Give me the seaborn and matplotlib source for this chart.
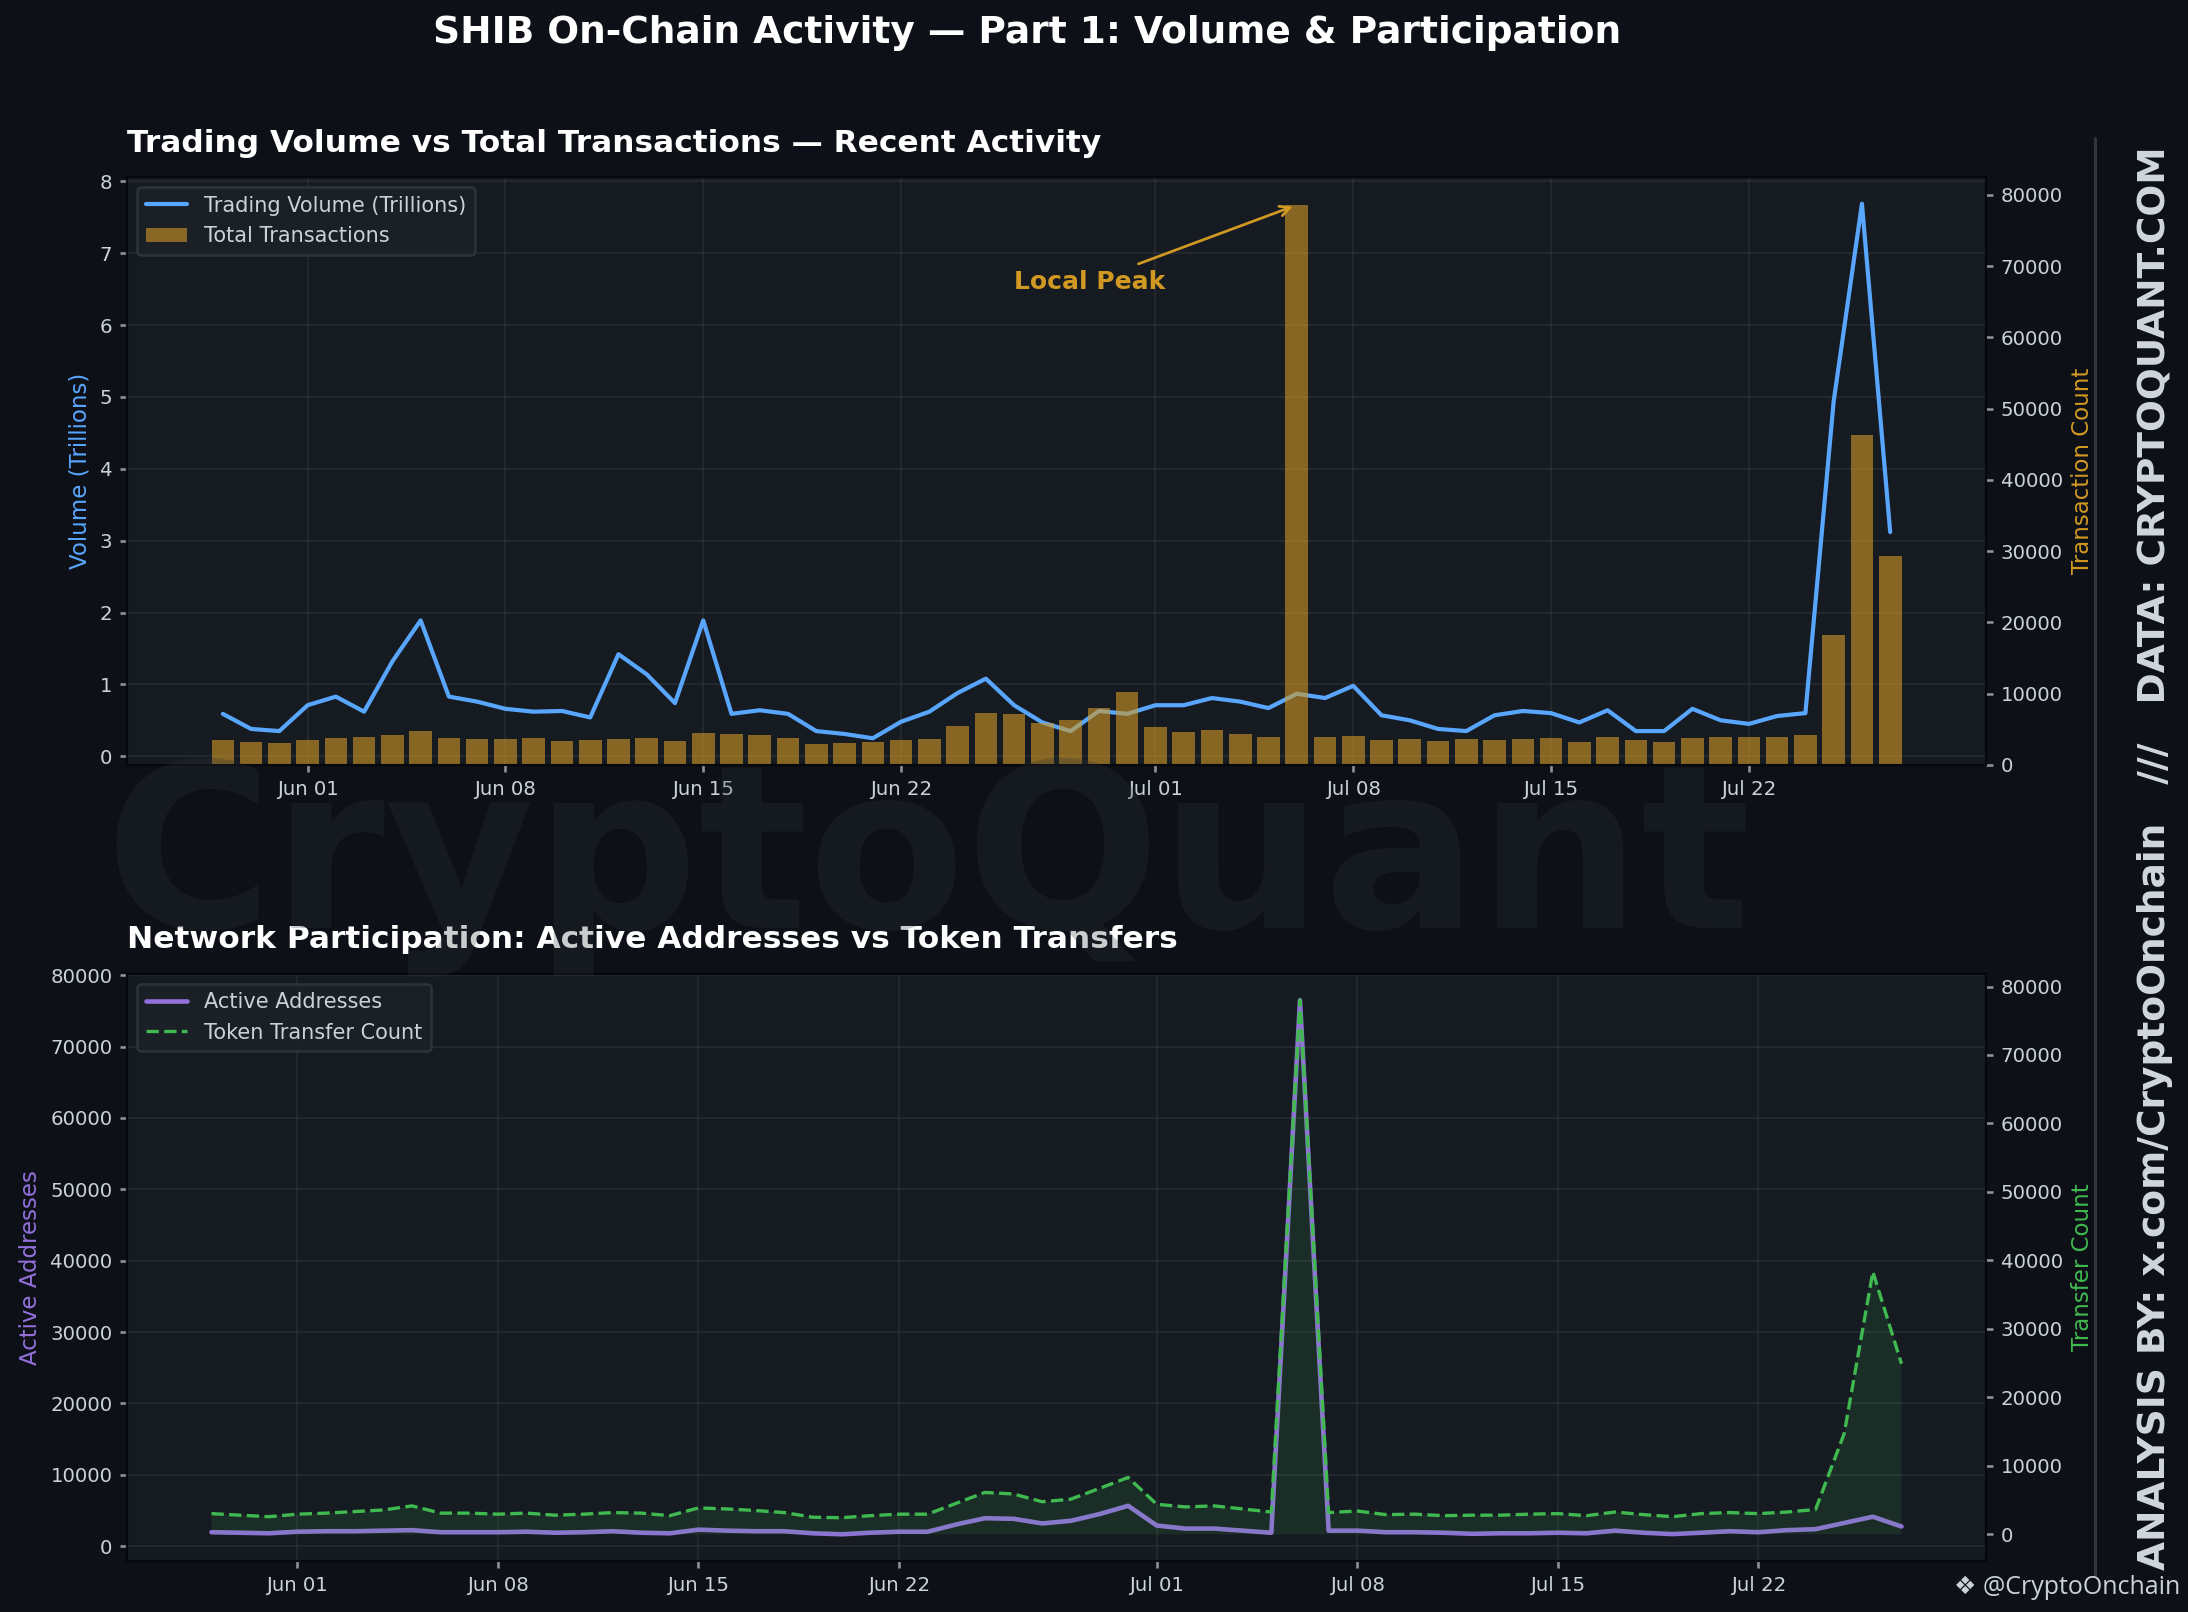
import numpy as np
import pandas as pd
import matplotlib
matplotlib.use("Agg")
import matplotlib.pyplot as plt
import matplotlib.dates as mdates
from matplotlib.lines import Line2D
import seaborn as sns

# ---------------- data ----------------
dates = pd.date_range("2025-05-29", periods=60, freq="D")

volume_trillions = [
    0.59, 0.38, 0.35, 0.71, 0.83, 0.62, 1.32, 1.89, 0.83, 0.76,
    0.66, 0.62, 0.63, 0.54, 1.42, 1.14, 0.74, 1.89, 0.59, 0.64,
    0.59, 0.35, 0.31, 0.25, 0.48, 0.62, 0.88, 1.08, 0.71, 0.47,
    0.35, 0.63, 0.59, 0.71, 0.71, 0.81, 0.76, 0.67, 0.87, 0.81,
    0.98, 0.57, 0.50, 0.38, 0.35, 0.57, 0.63, 0.60, 0.47, 0.64,
    0.35, 0.35, 0.66, 0.50, 0.45, 0.56, 0.60, 4.94, 7.69, 3.12,
]
total_transactions = [
    3510, 3290, 3150, 3500, 3720, 3860, 4150, 4720, 3790, 3650,
    3650, 3790, 3360, 3500, 3650, 3790, 3360, 4440, 4290, 4150,
    3790, 2930, 3080, 3220, 3500, 3650, 5440, 7300, 7160, 5900,
    6300, 8010, 10230, 5370, 4650, 4940, 4360, 3940, 78570, 3940,
    4080, 3510, 3650, 3360, 3650, 3510, 3650, 3790, 3220, 3940,
    3510, 3220, 3790, 3940, 3940, 3940, 4220, 18250, 46300, 29340,
]
active_addresses = [
    1960, 1890, 1810, 2030, 2100, 2100, 2180, 2250, 1960, 1960,
    1960, 2030, 1890, 1960, 2100, 1890, 1810, 2320, 2180, 2100,
    2100, 1810, 1670, 1890, 2030, 2030, 3050, 3920, 3840, 3190,
    3560, 4500, 5660, 2900, 2470, 2470, 2180, 1890, 76500, 2180,
    2180, 1960, 1960, 1890, 1740, 1810, 1810, 1890, 1810, 2180,
    1890, 1700, 1890, 2100, 1960, 2250, 2390, 3260, 4130, 2760,
]
token_transfers = [
    3020, 2790, 2570, 2940, 3090, 3320, 3550, 4150, 3090, 3090,
    2940, 3090, 2790, 2940, 3170, 3090, 2720, 3850, 3700, 3470,
    3170, 2490, 2420, 2720, 2940, 2940, 4530, 6110, 5890, 4750,
    5130, 6700, 8300, 4380, 4000, 4150, 3700, 3250, 78000, 3170,
    3400, 2870, 2940, 2720, 2790, 2790, 2940, 3020, 2720, 3250,
    2870, 2570, 3020, 3170, 3020, 3250, 3620, 14720, 38340, 24900,
]

df = pd.DataFrame({
    "date": dates,
    "volume": volume_trillions,
    "transactions": total_transactions,
    "active": active_addresses,
    "transfers": token_transfers,
})

# ---------------- style ----------------
BG = "#0d1117"
PANEL = "#161b22"
GRID = "#30363d"
TEXT = "#c9d1d9"
BLUE = "#58a6ff"
GOLD = "#d29922"
PURPLE = "#9370db"
GREEN = "#3fb950"

sns.set_theme(style="darkgrid")
plt.rcParams.update({
    "figure.facecolor": BG,
    "axes.facecolor": PANEL,
    "axes.edgecolor": "#05070a",
    "axes.linewidth": 1.0,
    "axes.grid": False,
    "grid.color": GRID,
    "grid.linewidth": 0.8,
    "xtick.color": "#8b949e",
    "ytick.color": "#8b949e",
    "xtick.labelcolor": TEXT,
    "ytick.labelcolor": TEXT,
    "xtick.labelsize": 9.5,
    "ytick.labelsize": 9.5,
    "xtick.bottom": True,
    "ytick.left": True,
    "xtick.major.size": 3.5,
    "ytick.major.size": 3.5,
    "text.color": TEXT,
})
plt.rcParams["font.family"] = ["DejaVu Sans"]

W, H = 2188, 1612
fig = plt.figure(figsize=(W / 150, H / 150), dpi=150, facecolor=BG)

ax1 = fig.add_axes([127 / W, 1 - 765 / H, (1986 - 127) / W, (765 - 177) / H])
ax3 = fig.add_axes([127 / W, 1 - 1561 / H, (1986 - 127) / W, (1561 - 973.5) / H])

date_fmt = mdates.DateFormatter("%b %d")
date_loc = mdates.DayLocator(bymonthday=[1, 8, 15, 22])


def style_legend(leg):
    frame = leg.get_frame()
    frame.set_facecolor("#1c2128")
    frame.set_edgecolor(GRID)
    frame.set_linewidth(1.2)
    frame.set_alpha(0.9)


# ---------------- top panel ----------------
sns.lineplot(data=df, x="date", y="volume", ax=ax1, color=BLUE, linewidth=2,
             label="Trading Volume (Trillions)", legend=False)
ax1.grid(True, color=GRID, linewidth=0.8, alpha=0.6)
ax1.set_xlabel("")
ax1.set_ylabel("Volume (Trillions)", color=BLUE, fontsize=11)

ax2 = ax1.twinx()
ax2.bar(df["date"], df["transactions"], width=0.8, color=GOLD, alpha=0.6,
        edgecolor="none", linewidth=0, label="Total Transactions")
ax2.grid(False)
ax2.set_ylabel("Transaction Count", color=GOLD, fontsize=11)
ax2.tick_params(axis="y", right=True, length=3.5, colors="#8b949e", labelcolor=TEXT)

peak_idx = int(np.argmax(total_transactions))
peak_x = mdates.date2num(dates[peak_idx])
peak_val = total_transactions[peak_idx]
ax2.annotate("Local Peak", xy=(peak_x, peak_val),
             xytext=(peak_x - 10, peak_val * 0.85),
             color=GOLD, fontsize=12, fontweight="bold",
             arrowprops=dict(arrowstyle="->", color=GOLD, lw=1.3))

ax1.set_title("Trading Volume vs Total Transactions \u2014 Recent Activity",
              loc="left", fontsize=15, fontweight="bold", color="white", pad=12)

h1, l1 = ax1.get_legend_handles_labels()
h2, l2 = ax2.get_legend_handles_labels()
leg_top = ax2.legend(h1 + h2, l1 + l2, loc="upper left", fontsize=10,
                     labelcolor=TEXT, fancybox=True)
style_legend(leg_top)

for a in (ax1, ax2):
    a.xaxis.set_major_locator(date_loc)
    a.xaxis.set_major_formatter(date_fmt)
    for s in a.spines.values():
        s.set_color("#05070a")

# ---------------- bottom panel ----------------
sns.lineplot(data=df, x="date", y="active", ax=ax3, color=PURPLE, linewidth=2.2,
             label="Active Addresses", legend=False)
ax3.grid(True, color=GRID, linewidth=0.8, alpha=0.6)
ax3.set_xlabel("")
ax3.set_ylabel("Active Addresses", color=PURPLE, fontsize=11)

ax4 = ax3.twinx()
sns.lineplot(data=df, x="date", y="transfers", ax=ax4, color=GREEN, linewidth=1.6,
             linestyle="--", label="Token Transfer Count", legend=False)
ax4.fill_between(df["date"], df["transfers"], color=GREEN, alpha=0.12,
                 linewidth=0, edgecolor="none")
ax4.grid(False)
ax4.set_xlabel("")
ax4.set_ylabel("Transfer Count", color=GREEN, fontsize=11)
ax4.tick_params(axis="y", right=True, length=3.5, colors="#8b949e", labelcolor=TEXT)

ax3.set_title("Network Participation: Active Addresses vs Token Transfers",
              loc="left", fontsize=15, fontweight="bold", color="white", pad=12)

h3, l3 = ax3.get_legend_handles_labels()
h4, l4 = ax4.get_legend_handles_labels()
leg_bot = ax4.legend(h3 + h4, l3 + l4, loc="upper left", fontsize=10,
                     labelcolor=TEXT, fancybox=True)
style_legend(leg_bot)

for a in (ax3, ax4):
    a.xaxis.set_major_locator(date_loc)
    a.xaxis.set_major_formatter(date_fmt)
    for s in a.spines.values():
        s.set_color("#05070a")

# ---------------- figure decorations ----------------
fig.text(1027 / W, 1 - 43.4 / H,
         "SHIB On-Chain Activity \u2014 Part 1: Volume & Participation",
         ha="center", va="baseline", fontsize=18, fontweight="bold", color="white")

fig.text(928 / W, 1 - 928 / H, "CryptoQuant", ha="center", va="baseline",
         fontsize=110, fontweight="bold", color=GRID, alpha=0.25, zorder=10)

fig.add_artist(Line2D([2095 / W, 2095 / W], [1 - 138 / H, 1 - 1576 / H],
                      color=GRID, lw=1.5, transform=fig.transFigure))

fig.text(2165 / W, 1 - 858 / H,
         "ANALYSIS BY: x.com/CryptoOnchain   ///   DATA: CRYPTOQUANT.COM",
         rotation=90, rotation_mode="anchor", ha="center", va="baseline",
         fontsize=18, fontweight="bold", color="#d0d7de")

fig.text(2180 / W, 1 - 1587 / H, "\u2756 @CryptoOnchain", ha="right", va="center",
         fontsize=12, color=TEXT, family=["Open Sans", "DejaVu Sans"])

fig.savefig("out.png", dpi=150, facecolor=BG)
